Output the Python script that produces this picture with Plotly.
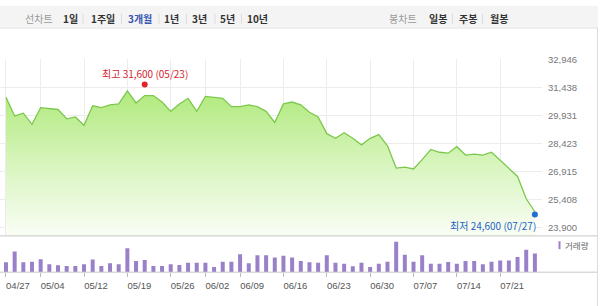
import plotly.graph_objects as go

# ---------------- data ----------------
day_index = list(range(62))
close_price = [30900, 29900, 30050, 29450, 30350, 30300, 30250, 29750, 29850, 29400,
               30450, 30350, 30500, 30550, 31250, 30600, 31000, 31000, 30650, 30150,
               30550, 30850, 30150, 30950, 30900, 30850, 30400, 30400, 30500, 30400,
               30150, 29550, 30550, 30650, 30500, 30100, 29850, 28950, 28700, 29000,
               28700, 28350, 28700, 28900, 28300, 27100, 27150, 27050, 27550, 28100,
               27950, 27900, 28250, 27800, 27850, 27800, 27950, 27500, 27100, 26650,
               25450, 24750]
volume = [100000, 210000, 100000, 107000, 133000, 80000, 70000, 63000, 63000, 80000,
          130000, 63000, 90000, 80000, 243000, 113000, 123000, 63000, 63000, 80000,
          73000, 97000, 97000, 97000, 53000, 107000, 107000, 183000, 90000, 173000,
          173000, 150000, 167000, 150000, 113000, 100000, 97000, 173000, 97000, 87000,
          60000, 97000, 53000, 87000, 107000, 310000, 177000, 107000, 173000, 87000,
          87000, 103000, 87000, 113000, 113000, 80000, 107000, 120000, 120000, 155000,
          230000, 190000]
date_tick_index = [0, 4, 9, 14, 19, 23, 27, 32, 37, 42, 47, 52, 57]
date_tick_label = ["04/27", "05/04", "05/12", "05/19", "05/26", "06/02", "06/09",
                   "06/16", "06/23", "06/30", "07/07", "07/14", "07/21"]
price_ticks = [23900, 25408, 26915, 28423, 29931, 31438, 32946]
high_index, high_value, high_label = 16, 31600, "최고 31,600 (05/23)"
low_index, low_value, low_label = 61, 24600, "최저 24,600 (07/27)"
period_tabs = ["1일", "1주일", "3개월", "1년", "3년", "5년", "10년"]
candle_tabs = ["일봉", "주봉", "월봉"]

W, H = 600, 306
def px(x):
    return x / W
def py(y):
    return 1 - y / H

KR = "Noto Sans CJK KR"
NUM = "Liberation Sans"

fig = go.Figure()
fig.add_trace(go.Scatter(
    x=day_index, y=close_price, mode="lines",
    line=dict(color="#7cc84c", width=1.3),
    fill="tozeroy",
    fillgradient=dict(type="vertical", start=23478, stop=31300,
                      colorscale=[[0, "rgb(251,254,248)"], [0.5, "rgb(216,245,190)"],
                                  [1, "rgb(176,233,124)"]]),
    xaxis="x", yaxis="y", hoverinfo="skip"))
fig.add_trace(go.Scatter(x=[high_index], y=[high_value], mode="markers",
                         marker=dict(color="#e2232a", size=6), xaxis="x", yaxis="y"))
fig.add_trace(go.Scatter(x=[low_index], y=[low_value], mode="markers",
                         marker=dict(color="#1c6fd3", size=6), xaxis="x", yaxis="y"))
fig.add_trace(go.Bar(x=day_index, y=volume, width=0.46,
                     marker=dict(color="#9a80c8", line=dict(width=0)),
                     xaxis="x2", yaxis="y2"))

xr = [-0.69, 61.82]
xdom = [0, px(542)]
fig.update_layout(
    width=W, height=H, margin=dict(l=0, r=0, t=0, b=0),
    paper_bgcolor="white", plot_bgcolor="white", showlegend=False,
    xaxis=dict(domain=xdom, range=xr, anchor="y", tickvals=date_tick_index,
               showticklabels=False, showgrid=True, gridcolor="#ececec",
               gridwidth=1, zeroline=False, ticks=""),
    yaxis=dict(domain=[py(234), py(54.3)], range=[23478, 32952], side="right",
               anchor="x", tickvals=price_ticks,
               ticktext=[f"{v:,}" for v in price_ticks],
               tickfont=dict(family=NUM, size=9.5, color="#777"),
               showgrid=True, gridcolor="#ececec", zeroline=False,
               ticklabelstandoff=5),
    xaxis2=dict(domain=xdom, range=xr, anchor="y2", tickvals=date_tick_index,
                ticktext=date_tick_label, ticks="outside", ticklen=4,
                tickcolor="#bbbbbb", tickfont=dict(family=NUM, size=9.5, color="#555"),
                ticklabelshift=12, ticklabeloverflow="allow",
                showgrid=False, zeroline=False, showline=False),
    yaxis2=dict(domain=[py(271.5), py(234)], range=[0, 375000], visible=False),
)

shapes = []
# header
shapes.append(dict(type="rect", xref="paper", yref="paper", x0=0, x1=px(598),
                   y0=py(22), y1=1, fillcolor="#f4f4f4", line=dict(width=0), layer="below"))
shapes.append(dict(type="line", xref="paper", yref="paper", x0=0, x1=px(598),
                   y0=py(22.5), y1=py(22.5), line=dict(color="#e0e0e0", width=1)))
shapes.append(dict(type="line", xref="paper", yref="paper", x0=px(597.5), x1=px(597.5),
                   y0=0, y1=py(22), line=dict(color="#dddddd", width=1)))
# separators between panels
for yy in (234.5, 271.5):
    shapes.append(dict(type="line", xref="paper", yref="paper", x0=0, x1=px(597),
                       y0=py(yy), y1=py(yy), line=dict(color="#c8c8c8", width=1)))
# tab separators
for sx in (83, 121.5, 159, 186.5, 215, 241.5, 452.5, 482.5):
    shapes.append(dict(type="line", xref="paper", yref="paper", x0=px(sx), x1=px(sx),
                       y0=py(8), y1=py(18), line=dict(color="#dcdcdc", width=1)))
# volume legend icon
shapes.append(dict(type="rect", xref="paper", yref="paper", x0=px(558.5), x1=px(560.5),
                   y0=py(248), y1=py(240), fillcolor="#9a80c8", line=dict(width=0)))
fig.update_layout(shapes=shapes)

ann = []
def header(text, xc, color="#333", bold=True):
    t = f"<b>{text}</b>" if bold else text
    ann.append(dict(text=t, x=px(xc), y=py(13), xref="paper", yref="paper",
                    showarrow=False, xanchor="center", yanchor="middle",
                    font=dict(family=KR, size=10, color=color)))

header("선차트", 39, "#999", False)
for lbl, xc in zip(period_tabs, [70.8, 103.3, 139.7, 171.7, 199, 227.5, 257.5]):
    header(lbl, xc, "#3a55b2" if lbl == "3개월" else "#333")
header("봉차트", 403.3, "#999", False)
for lbl, xc in zip(candle_tabs, [437.5, 467.5, 498.8]):
    header(lbl, xc)

ann.append(dict(text=high_label, x=high_index, y=high_value, xref="x", yref="y",
                showarrow=False, yshift=11, xanchor="center", yanchor="middle",
                font=dict(family=KR, size=10, color="#d6262d")))
ann.append(dict(text=low_label, x=low_index, y=low_value, xref="x", yref="y",
                showarrow=False, yshift=-11, xshift=3, xanchor="right", yanchor="middle",
                font=dict(family=KR, size=10, color="#1e63c4")))
ann.append(dict(text="거래량", x=px(563), y=py(244), xref="paper", yref="paper",
                showarrow=False, xanchor="left", yanchor="middle",
                font=dict(family=KR, size=8.5, color="#666")))
fig.update_layout(annotations=ann)

fig.write_html("out.html")
